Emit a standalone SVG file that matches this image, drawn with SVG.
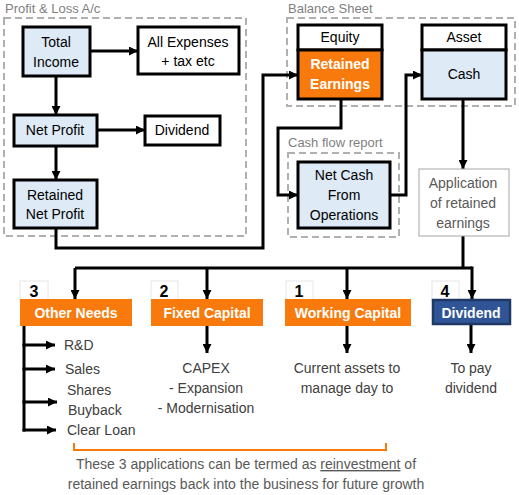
<svg xmlns="http://www.w3.org/2000/svg" width="519" height="495" viewBox="0 0 519 495">
<defs>
<marker id="ah" viewBox="0 0 10 10" refX="10" refY="5" markerWidth="9" markerHeight="9" markerUnits="userSpaceOnUse" orient="auto">
<path d="M0,0 L10,5 L0,10 z" fill="#000"/>
</marker>
</defs>
<style>
text{font-family:"Liberation Sans",Arial,sans-serif;font-size:14px;fill:#000;text-anchor:middle}
.lbl{fill:#7f7f7f;text-anchor:start;font-size:13px}
.grp{fill:none;stroke:#b0b0b0;stroke-width:2;stroke-dasharray:7,4}
.blue{fill:#deebf7;stroke:#000;stroke-width:3}
.wht{fill:#fff;stroke:#000;stroke-width:3}
.org{fill:#f97a0c;stroke:#000;stroke-width:3}
.ob{fill:#f97a0c}
.w{fill:#fff;font-weight:bold}
.num{fill:#fff;stroke:#e6e6e6;stroke-width:1}
.nt{font-weight:bold;font-size:16px}
.g{fill:#404040}
.gs{fill:#595959}
.c{fill:none;stroke:#000;stroke-width:3}
.ca{fill:none;stroke:#000;stroke-width:3;marker-end:url(#ah)}
</style>
<g id="groups">
<text class="lbl" x="5" y="13">Profit &amp; Loss A/c</text>
<rect class="grp" x="4" y="18" width="242" height="218"/>
<text class="lbl" x="288" y="13">Balance Sheet</text>
<rect class="grp" x="287" y="18" width="228" height="88"/>
<text class="lbl" x="288" y="147">Cash flow report</text>
<rect class="grp" x="288" y="153" width="111" height="84"/>
</g>
<g id="connectors">
<path class="ca" d="M90,51 H138"/>
<path class="ca" d="M56,76 V115"/>
<path class="ca" d="M97,130 H145"/>
<path class="ca" d="M56,146 V180"/>
<path class="ca" d="M56,228 V248 H263 V75 H298"/>
<path class="ca" d="M341,99 V128 H278 V195 H298"/>
<path class="ca" d="M390,195 H406 V75 H422"/>
<path class="ca" d="M463,99 V169"/>
<path class="c" d="M463,236 V268"/>
<path class="c" d="M75,268 H472"/>
<path class="ca" d="M75,268 V299"/>
<path class="ca" d="M207,268 V299"/>
<path class="ca" d="M347,268 V299"/>
<path class="ca" d="M472,266.5 V299"/>
<path class="ca" d="M207,326 V353"/>
<path class="ca" d="M347,326 V353"/>
<path class="ca" d="M471,324 V353"/>
<path class="c" d="M24,326 V431.5"/>
<path class="ca" d="M22.5,345 H55"/>
<path class="ca" d="M22.5,369 H55"/>
<path class="ca" d="M22.5,402 H57"/>
<path class="ca" d="M22.5,430 H56"/>
<path d="M74,443 V450 H386 V443" fill="none" stroke="#f97a0c" stroke-width="2"/>
</g>
<g id="total-income">
<rect class="blue" x="23" y="27" width="67" height="49"/>
<text x="56" y="47">Total</text>
<text x="56" y="67">Income</text>
</g>
<g id="all-expenses">
<rect class="wht" x="138" y="27" width="101" height="47"/>
<text x="188" y="47">All Expenses</text>
<text x="188" y="66">+ tax etc</text>
</g>
<g id="net-profit">
<rect class="blue" x="14" y="115" width="83" height="31"/>
<text x="55" y="135">Net Profit</text>
</g>
<g id="dividend-pl">
<rect class="wht" x="145" y="116" width="75" height="29"/>
<text x="182" y="135">Dividend</text>
</g>
<g id="retained-net-profit">
<rect class="blue" x="14" y="180" width="83" height="48"/>
<text x="55" y="200">Retained</text>
<text x="55" y="219">Net Profit</text>
</g>
<g id="equity">
<rect class="wht" x="298" y="25" width="84" height="25"/>
<text x="340" y="42">Equity</text>
</g>
<g id="retained-earnings">
<rect class="org" x="298" y="50" width="84" height="49"/>
<text class="w" x="340" y="69">Retained</text>
<text class="w" x="340" y="89">Earnings</text>
</g>
<g id="asset">
<rect class="wht" x="422" y="25" width="84" height="25"/>
<text x="464" y="42">Asset</text>
</g>
<g id="cash">
<rect class="blue" x="422" y="50" width="84" height="49"/>
<text x="464" y="79">Cash</text>
</g>
<g id="net-cash">
<rect class="blue" x="298" y="162" width="92" height="66"/>
<text x="344" y="180">Net Cash</text>
<text x="344" y="200">From</text>
<text x="344" y="220">Operations</text>
</g>
<g id="application">
<rect x="419" y="169" width="90" height="67" fill="#fff" stroke="#a6a6a6" stroke-width="1"/>
<text class="gs" x="463" y="188">Application</text>
<text class="gs" x="463" y="208">of retained</text>
<text class="gs" x="463" y="228">earnings</text>
</g>
<g id="other-needs">
<rect class="num" x="20" y="281" width="28" height="20"/>
<text class="nt" x="34" y="297">3</text>
<rect class="ob" x="20" y="299" width="112" height="27"/>
<text class="w" x="76" y="318">Other Needs</text>
<text class="g" x="64" y="350" style="text-anchor:start">R&amp;D</text>
<text class="g" x="65" y="374" style="text-anchor:start">Sales</text>
<text class="g" x="67" y="395" style="text-anchor:start">Shares</text>
<text class="g" x="68" y="415" style="text-anchor:start">Buyback</text>
<text class="g" x="67" y="435" style="text-anchor:start">Clear Loan</text>
</g>
<g id="fixed-capital">
<rect class="num" x="151" y="281" width="27" height="20"/>
<text class="nt" x="164" y="297">2</text>
<rect class="ob" x="151" y="299" width="112" height="27"/>
<text class="w" x="207" y="318">Fixed Capital</text>
<text class="g" x="206" y="373">CAPEX</text>
<text class="g" x="206" y="393">- Expansion</text>
<text class="g" x="206" y="413">- Modernisation</text>
</g>
<g id="working-capital">
<rect class="num" x="286" y="281" width="27" height="20"/>
<text class="nt" x="299" y="297">1</text>
<rect class="ob" x="285" y="299" width="126" height="27"/>
<text class="w" x="348" y="318">Working Capital</text>
<text class="g" x="347" y="373">Current assets to</text>
<text class="g" x="347" y="393">manage day to</text>
</g>
<g id="dividend-app">
<rect class="num" x="432" y="281" width="27" height="20"/>
<text class="nt" x="445" y="297">4</text>
<rect x="433" y="300" width="77" height="24" fill="#2f5597" stroke="#203864" stroke-width="2.5"/>
<text class="w" x="471" y="318">Dividend</text>
<text class="g" x="471" y="373">To pay</text>
<text class="g" x="471" y="393">dividend</text>
</g>
<g id="note">
<text class="gs" x="246" y="469">These 3 applications can be termed as <tspan text-decoration="underline">reinvestment</tspan> of</text>
<text class="gs" x="246" y="489">retained earnings back into the business for future growth</text>
</g>
</svg>
